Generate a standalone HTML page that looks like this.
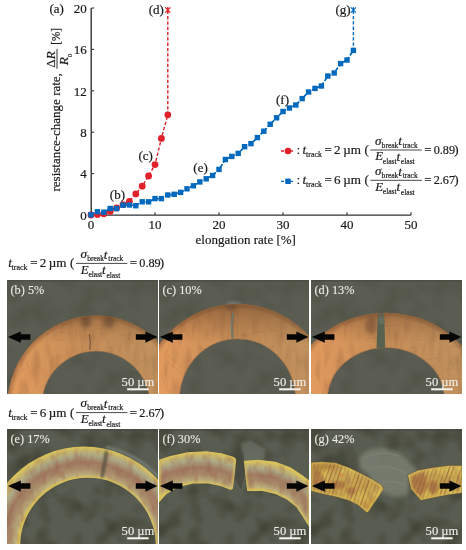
<!DOCTYPE html>
<html><head><meta charset="utf-8"><style>
html,body{margin:0;padding:0;background:#fff;}
.pt text{stroke:#1a1a1a;stroke-width:0.2px}
.pl{stroke:#f0f0ec;stroke-width:0.1px}
svg{display:block}

</style></head><body>
<svg width="466" height="550" viewBox="0 0 466 550" font-family="'Liberation Serif', serif" font-size="13" fill="#1a1a1a">
<defs>
<linearGradient id="cu1" x1="0" y1="0" x2="1" y2="0">
<stop offset="0" stop-color="#e39b5e"/><stop offset="0.45" stop-color="#c98f58"/><stop offset="1" stop-color="#bf915e"/>
</linearGradient>
<linearGradient id="cu1v" x1="0" y1="0" x2="0" y2="1">
<stop offset="0.2" stop-color="#5e3c24" stop-opacity="0.5"/><stop offset="0.36" stop-color="#6a4428" stop-opacity="0.3"/><stop offset="0.56" stop-color="#7a5030" stop-opacity="0"/><stop offset="1" stop-color="#f0a060" stop-opacity="0.1"/>
</linearGradient>
<filter id="tx1" color-interpolation-filters="sRGB" x="0" y="0" width="1" height="1">
<feTurbulence type="fractalNoise" baseFrequency="0.15 0.04" numOctaves="2" seed="4"/>
<feColorMatrix type="matrix" values="0 0 0 0 0.5  0 0 0 0 0.33  0 0 0 0 0.22  2.0 0 0 0 -0.9"/>
</filter>
<filter id="tx2" color-interpolation-filters="sRGB" x="0" y="0" width="1" height="1">
<feTurbulence type="fractalNoise" baseFrequency="0.15 0.08" numOctaves="2" seed="7"/>
<feColorMatrix type="matrix" values="0 0 0 0 0.60  0 0 0 0 0.38  0 0 0 0 0.30  2.6 0 0 0 -1.15"/>
</filter>
<filter id="mot" color-interpolation-filters="sRGB" x="0" y="0" width="1" height="1">
<feTurbulence type="fractalNoise" baseFrequency="0.045" numOctaves="2" seed="11"/>
<feColorMatrix type="matrix" values="0 0 0 0 0.26  0 0 0 0 0.27  0 0 0 0 0.22  2.6 0 0 0 -1.1"/>
</filter>
<filter id="bl1" color-interpolation-filters="sRGB" x="-0.2" y="-0.2" width="1.4" height="1.4"><feGaussianBlur stdDeviation="0.8"/></filter>
<filter id="bl2" color-interpolation-filters="sRGB" x="-0.5" y="-0.5" width="2" height="2"><feGaussianBlur stdDeviation="2"/></filter>
</defs>
<g class="pt"><path d="M91.2,8 V215.1 H411.2" fill="none" stroke="#333" stroke-width="1.4"/>
<path d="M91.5,215.0 h2.6" stroke="#333" stroke-width="1.1"/>
<text x="86.8" y="219.8" text-anchor="end">0</text>
<path d="M91.5,173.6 h2.6" stroke="#333" stroke-width="1.1"/>
<text x="86.8" y="178.4" text-anchor="end">4</text>
<path d="M91.5,132.2 h2.6" stroke="#333" stroke-width="1.1"/>
<text x="86.8" y="137.0" text-anchor="end">8</text>
<path d="M91.5,90.8 h2.6" stroke="#333" stroke-width="1.1"/>
<text x="86.8" y="95.6" text-anchor="end">12</text>
<path d="M91.5,49.4 h2.6" stroke="#333" stroke-width="1.1"/>
<text x="86.8" y="54.2" text-anchor="end">16</text>
<path d="M91.5,8.0 h2.6" stroke="#333" stroke-width="1.1"/>
<text x="86.8" y="12.8" text-anchor="end">20</text>
<path d="M91.0,215 v-2.8" stroke="#333" stroke-width="1.1"/>
<text x="91.0" y="229" text-anchor="middle">0</text>
<path d="M155.0,215 v-2.8" stroke="#333" stroke-width="1.1"/>
<text x="155.0" y="229" text-anchor="middle">10</text>
<path d="M219.0,215 v-2.8" stroke="#333" stroke-width="1.1"/>
<text x="219.0" y="229" text-anchor="middle">20</text>
<path d="M283.0,215 v-2.8" stroke="#333" stroke-width="1.1"/>
<text x="283.0" y="229" text-anchor="middle">30</text>
<path d="M347.0,215 v-2.8" stroke="#333" stroke-width="1.1"/>
<text x="347.0" y="229" text-anchor="middle">40</text>
<path d="M411.0,215 v-2.8" stroke="#333" stroke-width="1.1"/>
<text x="411.0" y="229" text-anchor="middle">50</text>
<polyline points="91.0,215.0 97.4,214.5 103.8,213.8 110.2,211.4 116.6,208.0 123.0,204.7 129.4,201.5 135.8,193.9 142.2,186.2 148.6,176.0 155.0,164.6 161.4,138.4 167.8,114.8 167.8,10" fill="none" stroke="#e0202a" stroke-width="1.4" stroke-dasharray="3.3,2"/>
<polyline points="91.0,214.8 97.4,211.7 103.8,212.2 110.2,208.5 116.6,208.5 123.0,205.2 129.4,205.0 135.8,205.7 142.2,201.8 148.6,201.8 155.0,198.6 161.4,198.6 167.8,195.0 174.2,194.3 180.6,192.4 187.0,188.8 193.4,185.8 199.8,181.9 206.2,178.8 212.6,175.5 219.0,169.4 225.4,159.5 231.8,156.4 238.2,153.4 244.6,146.7 251.0,143.6 257.4,137.6 263.8,131.2 270.2,124.3 276.6,117.8 283.0,111.5 289.4,108.0 295.8,105.0 302.2,98.6 308.6,92.0 315.0,88.4 321.4,86.0 327.8,76.0 334.2,73.0 340.6,63.6 347.0,60.0 353.4,50.4 353.4,10" fill="none" stroke="#0068bd" stroke-width="1.4" stroke-dasharray="3.3,2"/>
<circle cx="91.0" cy="215.0" r="3.4" fill="#e0202a"/>
<circle cx="97.4" cy="214.5" r="3.4" fill="#e0202a"/>
<circle cx="103.8" cy="213.8" r="3.4" fill="#e0202a"/>
<circle cx="110.2" cy="211.4" r="3.4" fill="#e0202a"/>
<circle cx="116.6" cy="208.0" r="3.4" fill="#e0202a"/>
<circle cx="123.0" cy="204.7" r="3.4" fill="#e0202a"/>
<circle cx="129.4" cy="201.5" r="3.4" fill="#e0202a"/>
<circle cx="135.8" cy="193.9" r="3.4" fill="#e0202a"/>
<circle cx="142.2" cy="186.2" r="3.4" fill="#e0202a"/>
<circle cx="148.6" cy="176.0" r="3.4" fill="#e0202a"/>
<circle cx="155.0" cy="164.6" r="3.4" fill="#e0202a"/>
<circle cx="161.4" cy="138.4" r="3.4" fill="#e0202a"/>
<circle cx="167.8" cy="114.8" r="3.4" fill="#e0202a"/>
<polyline points="91.0,214.8 97.4,211.7 103.8,212.2 110.2,208.5 116.6,208.5 123.0,205.2 129.4,205.0 135.8,205.7 142.2,201.8 148.6,201.8 155.0,198.6 161.4,198.6 167.8,195.0 174.2,194.3 180.6,192.4 187.0,188.8 193.4,185.8 199.8,181.9 206.2,178.8 212.6,175.5 219.0,169.4 225.4,159.5 231.8,156.4 238.2,153.4 244.6,146.7 251.0,143.6 257.4,137.6 263.8,131.2 270.2,124.3 276.6,117.8 283.0,111.5 289.4,108.0 295.8,105.0 302.2,98.6 308.6,92.0 315.0,88.4 321.4,86.0 327.8,76.0 334.2,73.0 340.6,63.6 347.0,60.0 353.4,50.4" fill="none" stroke="#0068bd" stroke-width="1.4" stroke-dasharray="3.3,2"/>
<rect x="88.3" y="212.1" width="5.4" height="5.4" fill="#0068bd"/>
<rect x="94.7" y="209.0" width="5.4" height="5.4" fill="#0068bd"/>
<rect x="101.1" y="209.5" width="5.4" height="5.4" fill="#0068bd"/>
<rect x="107.5" y="205.8" width="5.4" height="5.4" fill="#0068bd"/>
<rect x="113.9" y="205.8" width="5.4" height="5.4" fill="#0068bd"/>
<rect x="120.3" y="202.5" width="5.4" height="5.4" fill="#0068bd"/>
<rect x="126.7" y="202.3" width="5.4" height="5.4" fill="#0068bd"/>
<rect x="133.1" y="203.0" width="5.4" height="5.4" fill="#0068bd"/>
<rect x="139.5" y="199.1" width="5.4" height="5.4" fill="#0068bd"/>
<rect x="145.9" y="199.1" width="5.4" height="5.4" fill="#0068bd"/>
<rect x="152.3" y="195.9" width="5.4" height="5.4" fill="#0068bd"/>
<rect x="158.7" y="195.9" width="5.4" height="5.4" fill="#0068bd"/>
<rect x="165.1" y="192.3" width="5.4" height="5.4" fill="#0068bd"/>
<rect x="171.5" y="191.6" width="5.4" height="5.4" fill="#0068bd"/>
<rect x="177.9" y="189.7" width="5.4" height="5.4" fill="#0068bd"/>
<rect x="184.3" y="186.1" width="5.4" height="5.4" fill="#0068bd"/>
<rect x="190.7" y="183.1" width="5.4" height="5.4" fill="#0068bd"/>
<rect x="197.1" y="179.2" width="5.4" height="5.4" fill="#0068bd"/>
<rect x="203.5" y="176.1" width="5.4" height="5.4" fill="#0068bd"/>
<rect x="209.9" y="172.8" width="5.4" height="5.4" fill="#0068bd"/>
<rect x="216.3" y="166.7" width="5.4" height="5.4" fill="#0068bd"/>
<rect x="222.7" y="156.8" width="5.4" height="5.4" fill="#0068bd"/>
<rect x="229.1" y="153.7" width="5.4" height="5.4" fill="#0068bd"/>
<rect x="235.5" y="150.7" width="5.4" height="5.4" fill="#0068bd"/>
<rect x="241.9" y="144.0" width="5.4" height="5.4" fill="#0068bd"/>
<rect x="248.3" y="140.9" width="5.4" height="5.4" fill="#0068bd"/>
<rect x="254.7" y="134.9" width="5.4" height="5.4" fill="#0068bd"/>
<rect x="261.1" y="128.5" width="5.4" height="5.4" fill="#0068bd"/>
<rect x="267.5" y="121.6" width="5.4" height="5.4" fill="#0068bd"/>
<rect x="273.9" y="115.1" width="5.4" height="5.4" fill="#0068bd"/>
<rect x="280.3" y="108.8" width="5.4" height="5.4" fill="#0068bd"/>
<rect x="286.7" y="105.3" width="5.4" height="5.4" fill="#0068bd"/>
<rect x="293.1" y="102.3" width="5.4" height="5.4" fill="#0068bd"/>
<rect x="299.5" y="95.9" width="5.4" height="5.4" fill="#0068bd"/>
<rect x="305.9" y="89.3" width="5.4" height="5.4" fill="#0068bd"/>
<rect x="312.3" y="85.7" width="5.4" height="5.4" fill="#0068bd"/>
<rect x="318.7" y="83.3" width="5.4" height="5.4" fill="#0068bd"/>
<rect x="325.1" y="73.3" width="5.4" height="5.4" fill="#0068bd"/>
<rect x="331.5" y="70.3" width="5.4" height="5.4" fill="#0068bd"/>
<rect x="337.9" y="60.9" width="5.4" height="5.4" fill="#0068bd"/>
<rect x="344.3" y="57.3" width="5.4" height="5.4" fill="#0068bd"/>
<rect x="350.7" y="47.7" width="5.4" height="5.4" fill="#0068bd"/>
<path d="M165.20000000000002,7.4 L170.4,12.6 M165.20000000000002,12.6 L170.4,7.4 M167.8,7 V13" stroke="#e0202a" stroke-width="1.2" fill="none"/>
<path d="M350.8,7.4 L356.00000000000006,12.6 M350.8,12.6 L356.00000000000006,7.4 M353.40000000000003,7 V13" stroke="#0068bd" stroke-width="1.2" fill="none"/>
<text x="49.5" y="12.5">(a)</text>
<text x="148.7" y="14">(d)</text>
<text x="335.5" y="14">(g)</text>
<text x="138.5" y="160">(c)</text>
<text x="109.8" y="198.5">(b)</text>
<text x="193.3" y="172">(e)</text>
<text x="276" y="104">(f)</text>
<text x="195.6" y="243.5">elongation rate [%]</text>
<g transform="translate(59.6,191.5) rotate(-90)"><text x="0" y="0">resistance-change rate,</text><text x="123.8" y="-4.6">Δ<tspan font-style="italic">R</tspan></text><path d="M122.7,-2.6 H142.7" stroke="#333" stroke-width="1"/><text x="126.3" y="8.2" font-style="italic" font-size="13.5">R</text><text x="134.6" y="12.1" font-size="6.6">0</text><text x="146.8" y="0" textLength="16.6" lengthAdjust="spacingAndGlyphs">[%]</text></g>
<path d="M281,151 H294.5" stroke="#e0202a" stroke-width="1.3" stroke-dasharray="3,1.5"/><circle cx="288" cy="151" r="3.3" fill="#e0202a"/>
<text x="296.6" y="154">:</text>
<g transform="translate(302.6,154)"><text x="0" y="0" font-size="13.5" font-style="italic">t</text><text x="3.4" y="3.0" font-size="8.5" textLength="16" lengthAdjust="spacingAndGlyphs">track</text><text x="22.0" y="0" font-size="13">=</text><text x="31.5" y="0" font-size="13">2</text><text x="40.6" y="0" font-size="13" textLength="17.8" lengthAdjust="spacingAndGlyphs">µm</text><text x="61.8" y="0" font-size="13">(</text><text x="72.4" y="-9.4" font-size="13" font-style="italic">σ</text><text x="79.0" y="-6.4" font-size="8.5" textLength="16.8" lengthAdjust="spacingAndGlyphs">break</text><text x="95.6" y="-8.8" font-size="13.5" font-style="italic">t</text><text x="100.1" y="-6.4" font-size="8.5" textLength="15" lengthAdjust="spacingAndGlyphs">track</text><text x="72.6" y="6.2" font-size="13" font-style="italic">E</text><text x="80.2" y="9.8" font-size="8.5" textLength="13.8" lengthAdjust="spacingAndGlyphs">elast</text><text x="93.8" y="6.8" font-size="13.5" font-style="italic">t</text><text x="98.2" y="10.4" font-size="8.5" textLength="13.9" lengthAdjust="spacingAndGlyphs">elast</text><text x="121.6" y="0" font-size="13">=</text><text x="131.1" y="0" font-size="13" textLength="21.4" lengthAdjust="spacingAndGlyphs">0.89</text><text x="151.6" y="0" font-size="13">)</text><path d="M67.8,-4.0 H119.2" stroke="#1a1a1a" stroke-width="0.8"/></g>
<path d="M281,181.3 H294.5" stroke="#0068bd" stroke-width="1.3" stroke-dasharray="3,1.5"/><rect x="285.3" y="178.6" width="5.4" height="5.4" fill="#0068bd"/>
<text x="296.6" y="184.3">:</text>
<g transform="translate(302.6,184.3)"><text x="0" y="0" font-size="13.5" font-style="italic">t</text><text x="3.4" y="3.0" font-size="8.5" textLength="16" lengthAdjust="spacingAndGlyphs">track</text><text x="22.0" y="0" font-size="13">=</text><text x="31.5" y="0" font-size="13">6</text><text x="40.6" y="0" font-size="13" textLength="17.8" lengthAdjust="spacingAndGlyphs">µm</text><text x="61.8" y="0" font-size="13">(</text><text x="72.4" y="-9.4" font-size="13" font-style="italic">σ</text><text x="79.0" y="-6.4" font-size="8.5" textLength="16.8" lengthAdjust="spacingAndGlyphs">break</text><text x="95.6" y="-8.8" font-size="13.5" font-style="italic">t</text><text x="100.1" y="-6.4" font-size="8.5" textLength="15" lengthAdjust="spacingAndGlyphs">track</text><text x="72.6" y="6.2" font-size="13" font-style="italic">E</text><text x="80.2" y="9.8" font-size="8.5" textLength="13.8" lengthAdjust="spacingAndGlyphs">elast</text><text x="93.8" y="6.8" font-size="13.5" font-style="italic">t</text><text x="98.2" y="10.4" font-size="8.5" textLength="13.9" lengthAdjust="spacingAndGlyphs">elast</text><text x="121.6" y="0" font-size="13">=</text><text x="131.1" y="0" font-size="13" textLength="21.4" lengthAdjust="spacingAndGlyphs">2.67</text><text x="151.6" y="0" font-size="13">)</text><path d="M67.8,-4.0 H119.2" stroke="#1a1a1a" stroke-width="0.8"/></g>
<g transform="translate(8.2,267.4)"><text x="0" y="0" font-size="13.5" font-style="italic">t</text><text x="3.4" y="3.0" font-size="8.5" textLength="16" lengthAdjust="spacingAndGlyphs">track</text><text x="22.0" y="0" font-size="13">=</text><text x="31.5" y="0" font-size="13">2</text><text x="40.6" y="0" font-size="13" textLength="17.8" lengthAdjust="spacingAndGlyphs">µm</text><text x="61.8" y="0" font-size="13">(</text><text x="72.4" y="-9.4" font-size="13" font-style="italic">σ</text><text x="79.0" y="-6.4" font-size="8.5" textLength="16.8" lengthAdjust="spacingAndGlyphs">break</text><text x="95.6" y="-8.8" font-size="13.5" font-style="italic">t</text><text x="100.1" y="-6.4" font-size="8.5" textLength="15" lengthAdjust="spacingAndGlyphs">track</text><text x="72.6" y="6.2" font-size="13" font-style="italic">E</text><text x="80.2" y="9.8" font-size="8.5" textLength="13.8" lengthAdjust="spacingAndGlyphs">elast</text><text x="93.8" y="6.8" font-size="13.5" font-style="italic">t</text><text x="98.2" y="10.4" font-size="8.5" textLength="13.9" lengthAdjust="spacingAndGlyphs">elast</text><text x="121.6" y="0" font-size="13">=</text><text x="131.1" y="0" font-size="13" textLength="21.4" lengthAdjust="spacingAndGlyphs">0.89</text><text x="151.6" y="0" font-size="13">)</text><path d="M67.8,-4.0 H119.2" stroke="#1a1a1a" stroke-width="0.8"/></g>
<g transform="translate(8.2,416.6)"><text x="0" y="0" font-size="13.5" font-style="italic">t</text><text x="3.4" y="3.0" font-size="8.5" textLength="16" lengthAdjust="spacingAndGlyphs">track</text><text x="22.0" y="0" font-size="13">=</text><text x="31.5" y="0" font-size="13">6</text><text x="40.6" y="0" font-size="13" textLength="17.8" lengthAdjust="spacingAndGlyphs">µm</text><text x="61.8" y="0" font-size="13">(</text><text x="72.4" y="-9.4" font-size="13" font-style="italic">σ</text><text x="79.0" y="-6.4" font-size="8.5" textLength="16.8" lengthAdjust="spacingAndGlyphs">break</text><text x="95.6" y="-8.8" font-size="13.5" font-style="italic">t</text><text x="100.1" y="-6.4" font-size="8.5" textLength="15" lengthAdjust="spacingAndGlyphs">track</text><text x="72.6" y="6.2" font-size="13" font-style="italic">E</text><text x="80.2" y="9.8" font-size="8.5" textLength="13.8" lengthAdjust="spacingAndGlyphs">elast</text><text x="93.8" y="6.8" font-size="13.5" font-style="italic">t</text><text x="98.2" y="10.4" font-size="8.5" textLength="13.9" lengthAdjust="spacingAndGlyphs">elast</text><text x="121.6" y="0" font-size="13">=</text><text x="131.1" y="0" font-size="13" textLength="21.4" lengthAdjust="spacingAndGlyphs">2.67</text><text x="151.6" y="0" font-size="13">)</text><path d="M67.8,-4.0 H119.2" stroke="#1a1a1a" stroke-width="0.8"/></g></g>
<svg x="7" y="280" width="151" height="114" viewBox="0 0 151 114" overflow="hidden"><rect width="151" height="114" fill="#5b5d52"/><rect width="151" height="114" filter="url(#mot)" opacity="0.35"/><rect width="151" height="1.6" fill="#45483d" opacity="0.6"/><clipPath id="kb"><path fill-rule="evenodd" d="M0.5,125.3 A88.5,89.7 0 1 1 177.5,125.3 A88.5,89.7 0 1 1 0.5,125.3 Z M35,125.3 A54,54 0 1 0 143,125.3 A54,54 0 1 0 35,125.3 Z "/></clipPath><g clip-path="url(#kb)"><rect width="151" height="114" fill="url(#cu1)"/><rect width="151" height="114" fill="url(#cu1v)"/><rect width="151" height="114" filter="url(#tx1)" opacity="0.3"/><g stroke="#7a5234" fill="none"><path d="M5.3,41.8 l14.4,0.1" stroke-width="0.45" opacity="0.23"/><path d="M80.8,63.3 l12.9,11.9" stroke-width="0.40" opacity="0.15"/><path d="M61.0,78.4 l5.4,-7.6" stroke-width="0.51" opacity="0.20"/><path d="M43.6,81.4 l2.9,-6.1" stroke-width="0.54" opacity="0.11"/><path d="M134.6,103.0 l12.2,1.9" stroke-width="0.41" opacity="0.15"/><path d="M17.9,63.9 l3.6,-5.9" stroke-width="0.54" opacity="0.19"/><path d="M56.1,108.3 l11.4,-0.5" stroke-width="0.64" opacity="0.16"/><path d="M50.7,51.7 l13.2,2.3" stroke-width="0.53" opacity="0.22"/><path d="M66.1,57.6 l12.5,-8.0" stroke-width="0.37" opacity="0.21"/><path d="M49.7,60.5 l9.0,-1.3" stroke-width="0.67" opacity="0.22"/><path d="M93.3,58.7 l2.7,-6.6" stroke-width="0.31" opacity="0.26"/><path d="M53.7,44.8 l13.1,-0.0" stroke-width="0.56" opacity="0.26"/><path d="M98.8,111.6 l8.2,11.4" stroke-width="0.47" opacity="0.25"/><path d="M93.5,99.4 l4.4,6.3" stroke-width="0.37" opacity="0.26"/><path d="M45.8,77.5 l9.5,-1.4" stroke-width="0.50" opacity="0.26"/><path d="M95.9,60.5 l10.2,-18.9" stroke-width="0.49" opacity="0.14"/><path d="M100.6,76.8 l13.4,-16.4" stroke-width="0.39" opacity="0.22"/><path d="M1.2,72.4 l9.8,-7.0" stroke-width="0.39" opacity="0.22"/><path d="M48.5,32.7 l11.9,0.7" stroke-width="0.56" opacity="0.12"/><path d="M114.9,63.5 l16.7,-12.0" stroke-width="0.32" opacity="0.21"/><path d="M136.9,104.8 l5.7,-12.1" stroke-width="0.31" opacity="0.27"/><path d="M130.2,30.7 l9.9,-6.9" stroke-width="0.69" opacity="0.22"/><path d="M88.8,36.5 l9.4,-5.7" stroke-width="0.40" opacity="0.17"/><path d="M87.8,79.2 l7.9,0.2" stroke-width="0.48" opacity="0.23"/><path d="M30.0,85.6 l11.0,7.8" stroke-width="0.49" opacity="0.14"/><path d="M81.4,50.0 l14.3,-1.8" stroke-width="0.58" opacity="0.11"/><path d="M93.0,27.3 l4.0,-5.3" stroke-width="0.58" opacity="0.20"/><path d="M6.7,52.6 l10.8,-0.9" stroke-width="0.43" opacity="0.26"/><path d="M9.1,97.2 l7.9,-9.2" stroke-width="0.58" opacity="0.25"/><path d="M18.4,35.0 l20.6,3.4" stroke-width="0.54" opacity="0.12"/><path d="M123.4,54.1 l11.2,-6.4" stroke-width="0.41" opacity="0.16"/><path d="M11.0,63.4 l9.1,-5.1" stroke-width="0.40" opacity="0.24"/><path d="M35.0,104.7 l11.3,12.0" stroke-width="0.62" opacity="0.13"/><path d="M102.5,50.2 l4.4,-9.9" stroke-width="0.59" opacity="0.10"/><path d="M150.6,46.7 l12.5,14.5" stroke-width="0.38" opacity="0.24"/><path d="M112.6,55.8 l18.8,-2.9" stroke-width="0.68" opacity="0.17"/><path d="M41.5,113.9 l8.3,19.4" stroke-width="0.62" opacity="0.21"/><path d="M74.7,110.5 l8.9,19.1" stroke-width="0.47" opacity="0.16"/><path d="M81.3,46.0 l10.2,-12.7" stroke-width="0.69" opacity="0.20"/><path d="M123.9,63.8 l9.4,0.2" stroke-width="0.43" opacity="0.20"/><path d="M145.9,59.2 l6.6,11.4" stroke-width="0.40" opacity="0.21"/><path d="M125.3,87.2 l13.8,-8.6" stroke-width="0.55" opacity="0.27"/><path d="M32.1,110.9 l10.9,-1.7" stroke-width="0.42" opacity="0.22"/><path d="M136.0,101.4 l9.1,-1.1" stroke-width="0.62" opacity="0.12"/><path d="M37.4,37.1 l21.8,-1.4" stroke-width="0.56" opacity="0.14"/><path d="M50.4,52.5 l13.1,-16.1" stroke-width="0.39" opacity="0.20"/><path d="M77.5,100.3 l12.0,2.4" stroke-width="0.31" opacity="0.20"/><path d="M130.7,25.7 l4.0,7.2" stroke-width="0.54" opacity="0.17"/><path d="M63.6,45.7 l20.4,-2.8" stroke-width="0.39" opacity="0.19"/><path d="M38.6,108.0 l7.7,13.4" stroke-width="0.38" opacity="0.16"/><path d="M127.0,40.6 l4.6,4.0" stroke-width="0.59" opacity="0.12"/><path d="M19.1,81.4 l4.7,11.4" stroke-width="0.54" opacity="0.27"/><path d="M118.7,64.4 l3.7,-5.8" stroke-width="0.31" opacity="0.20"/><path d="M135.5,112.4 l8.4,14.1" stroke-width="0.56" opacity="0.11"/><path d="M144.4,96.2 l4.3,-5.5" stroke-width="0.69" opacity="0.26"/><path d="M97.9,81.5 l12.5,9.4" stroke-width="0.43" opacity="0.12"/><path d="M64.4,81.1 l21.1,1.0" stroke-width="0.61" opacity="0.26"/><path d="M143.6,96.6 l7.0,14.5" stroke-width="0.44" opacity="0.14"/><path d="M42.1,80.6 l4.7,8.6" stroke-width="0.54" opacity="0.22"/><path d="M85.0,99.8 l12.8,-8.9" stroke-width="0.57" opacity="0.21"/></g><g filter="url(#bl2)" opacity="0.6"><ellipse cx="79" cy="41" rx="5" ry="7" fill="#5e4030"/><ellipse cx="102" cy="41" rx="5.5" ry="7" fill="#5e4030"/></g><path d="M82.3,54 L83.2,62 L82.8,70" stroke="#4a3a30" stroke-width="1.1" fill="none" opacity="0.65"/><path d="M0.5,125.3 A88.5,89.7 0 1 1 177.5,125.3 A88.5,89.7 0 1 1 0.5,125.3 Z " fill="none" stroke="#6a4428" stroke-width="7" opacity="0.32" filter="url(#bl1)"/><path fill-rule="evenodd" d="M0.5,125.3 A88.5,89.7 0 1 1 177.5,125.3 A88.5,89.7 0 1 1 0.5,125.3 Z M35,125.3 A54,54 0 1 0 143,125.3 A54,54 0 1 0 35,125.3 Z " fill="none" stroke="#8a6040" stroke-width="1.2" opacity="0.5"/></g><path d="M0.9,57 L13.8,51.4 V54.3 H23.4 V59.8 H13.8 V62.7 Z" fill="#050505"/><path d="M150.4,57 L138.4,51.4 V54.3 H128.8 V59.8 H138.4 V62.7 Z" fill="#050505"/><text class="pl" x="3.5" y="13.5" fill="#ecebe6" font-size="12.3">(b) 5%</text><text class="pl" x="114.6" y="106.4" fill="#f2f2ee" font-size="12.6">50 µm</text><rect x="120.2" y="108.3" width="21.5" height="2" fill="#f4f4f0"/></svg><svg x="159" y="280" width="150" height="114" viewBox="0 0 150 114" overflow="hidden"><rect width="150" height="114" fill="#5b5d52"/><rect width="150" height="114" filter="url(#mot)" opacity="0.35"/><rect width="150" height="1.6" fill="#45483d" opacity="0.6"/><ellipse cx="75" cy="23.5" rx="8" ry="2.2" fill="#7d8478" opacity="0.7" filter="url(#bl1)"/><clipPath id="kc"><path fill-rule="evenodd" d="M-17.5,120 A96,96 0 1 1 174.5,120 A96,96 0 1 1 -17.5,120 Z M20.5,120 A58,61 0 1 0 136.5,120 A58,61 0 1 0 20.5,120 Z "/></clipPath><g clip-path="url(#kc)"><rect width="150" height="114" fill="url(#cu1)"/><rect width="150" height="114" fill="url(#cu1v)"/><rect width="150" height="114" filter="url(#tx1)" opacity="0.3"/><g stroke="#7a5234" fill="none"><path d="M2.0,46.0 l11.5,2.3" stroke-width="0.45" opacity="0.20"/><path d="M74.2,46.0 l17.6,2.0" stroke-width="0.30" opacity="0.21"/><path d="M9.1,75.3 l9.1,8.2" stroke-width="0.68" opacity="0.24"/><path d="M0.8,45.3 l13.4,2.5" stroke-width="0.69" opacity="0.18"/><path d="M32.9,22.4 l6.4,-0.6" stroke-width="0.45" opacity="0.12"/><path d="M43.7,68.6 l16.4,3.0" stroke-width="0.45" opacity="0.21"/><path d="M81.0,95.6 l9.8,-8.0" stroke-width="0.35" opacity="0.20"/><path d="M100.9,43.4 l21.7,0.0" stroke-width="0.35" opacity="0.19"/><path d="M54.0,20.4 l18.0,2.0" stroke-width="0.54" opacity="0.12"/><path d="M68.9,64.2 l6.9,14.0" stroke-width="0.60" opacity="0.11"/><path d="M91.9,37.5 l7.5,-17.4" stroke-width="0.31" opacity="0.21"/><path d="M141.1,32.3 l3.9,7.3" stroke-width="0.48" opacity="0.11"/><path d="M114.7,33.2 l9.4,11.1" stroke-width="0.36" opacity="0.24"/><path d="M68.7,95.5 l9.2,-6.0" stroke-width="0.52" opacity="0.23"/><path d="M2.1,94.5 l8.1,18.1" stroke-width="0.63" opacity="0.23"/><path d="M85.3,100.1 l8.6,17.9" stroke-width="0.53" opacity="0.27"/><path d="M67.9,34.1 l11.5,1.5" stroke-width="0.60" opacity="0.14"/><path d="M38.4,66.2 l17.4,9.9" stroke-width="0.64" opacity="0.24"/><path d="M34.8,79.6 l7.2,-9.3" stroke-width="0.53" opacity="0.24"/><path d="M83.9,85.9 l13.2,-0.8" stroke-width="0.45" opacity="0.12"/><path d="M121.5,93.2 l8.0,17.9" stroke-width="0.34" opacity="0.21"/><path d="M145.5,28.8 l16.8,12.1" stroke-width="0.59" opacity="0.22"/><path d="M30.6,41.3 l14.1,12.1" stroke-width="0.45" opacity="0.28"/><path d="M128.8,106.6 l11.9,17.5" stroke-width="0.55" opacity="0.26"/><path d="M99.4,62.0 l9.2,7.3" stroke-width="0.38" opacity="0.23"/><path d="M46.3,90.7 l14.4,10.1" stroke-width="0.46" opacity="0.23"/><path d="M85.7,80.6 l13.6,0.3" stroke-width="0.47" opacity="0.12"/><path d="M86.0,59.6 l8.0,16.1" stroke-width="0.46" opacity="0.18"/><path d="M45.5,39.2 l8.6,-7.7" stroke-width="0.63" opacity="0.26"/><path d="M17.4,54.7 l18.4,-11.6" stroke-width="0.33" opacity="0.18"/><path d="M34.4,97.5 l10.8,6.2" stroke-width="0.40" opacity="0.11"/><path d="M98.5,22.5 l13.0,-11.9" stroke-width="0.31" opacity="0.27"/><path d="M96.0,73.8 l7.6,1.1" stroke-width="0.36" opacity="0.24"/><path d="M82.1,55.2 l21.4,-4.0" stroke-width="0.66" opacity="0.19"/><path d="M72.9,68.1 l10.0,10.2" stroke-width="0.48" opacity="0.23"/><path d="M102.8,69.9 l5.3,-5.5" stroke-width="0.33" opacity="0.24"/><path d="M120.1,26.3 l12.4,1.1" stroke-width="0.42" opacity="0.23"/><path d="M19.8,87.3 l13.2,-9.8" stroke-width="0.61" opacity="0.18"/><path d="M120.6,47.5 l8.7,-13.8" stroke-width="0.69" opacity="0.16"/><path d="M20.3,30.3 l19.6,0.3" stroke-width="0.63" opacity="0.24"/><path d="M45.7,113.9 l7.4,-7.8" stroke-width="0.63" opacity="0.18"/><path d="M38.0,21.9 l6.9,15.4" stroke-width="0.48" opacity="0.18"/><path d="M10.5,83.6 l13.0,9.5" stroke-width="0.69" opacity="0.17"/><path d="M5.3,78.0 l6.2,-14.9" stroke-width="0.42" opacity="0.17"/><path d="M109.3,49.3 l10.6,2.1" stroke-width="0.41" opacity="0.25"/><path d="M2.3,51.9 l6.8,-17.4" stroke-width="0.67" opacity="0.28"/><path d="M13.6,28.2 l13.2,0.8" stroke-width="0.48" opacity="0.27"/><path d="M20.4,36.9 l19.3,-0.6" stroke-width="0.38" opacity="0.18"/><path d="M117.5,94.3 l12.6,-9.8" stroke-width="0.44" opacity="0.14"/><path d="M93.8,27.9 l5.7,8.4" stroke-width="0.33" opacity="0.23"/><path d="M139.2,55.0 l8.6,-0.2" stroke-width="0.59" opacity="0.24"/><path d="M123.7,112.5 l5.7,7.2" stroke-width="0.49" opacity="0.28"/><path d="M42.8,76.9 l9.8,-11.9" stroke-width="0.48" opacity="0.19"/><path d="M27.8,88.0 l12.9,1.7" stroke-width="0.31" opacity="0.27"/><path d="M96.2,49.8 l4.4,9.5" stroke-width="0.58" opacity="0.13"/><path d="M63.2,72.0 l6.7,-15.8" stroke-width="0.51" opacity="0.26"/><path d="M25.0,46.1 l6.5,14.7" stroke-width="0.34" opacity="0.26"/><path d="M124.4,53.6 l16.4,-2.1" stroke-width="0.65" opacity="0.13"/><path d="M139.2,79.8 l8.8,6.8" stroke-width="0.35" opacity="0.25"/><path d="M76.0,89.5 l5.4,8.0" stroke-width="0.59" opacity="0.23"/></g><g filter="url(#bl2)" opacity="0.6"><ellipse cx="72" cy="27" rx="5" ry="4" fill="#5a4535"/></g><path d="M74,33 L72.5,46 L73.6,58" stroke="#4a3a30" stroke-width="3.2" fill="none" opacity="0.45" filter="url(#bl1)"/><path d="M74,33 L72.5,46 L73.6,58" stroke="#6a8074" stroke-width="1.7" fill="none" opacity="0.9"/><path d="M-17.5,120 A96,96 0 1 1 174.5,120 A96,96 0 1 1 -17.5,120 Z " fill="none" stroke="#6a4428" stroke-width="7" opacity="0.32" filter="url(#bl1)"/><path fill-rule="evenodd" d="M-17.5,120 A96,96 0 1 1 174.5,120 A96,96 0 1 1 -17.5,120 Z M20.5,120 A58,61 0 1 0 136.5,120 A58,61 0 1 0 20.5,120 Z " fill="none" stroke="#8a6040" stroke-width="1.2" opacity="0.5"/></g><path d="M0.9,57 L13.8,51.4 V54.3 H23.4 V59.8 H13.8 V62.7 Z" fill="#050505"/><path d="M149.4,57 L137.4,51.4 V54.3 H127.8 V59.8 H137.4 V62.7 Z" fill="#050505"/><text class="pl" x="3.5" y="13.5" fill="#ecebe6" font-size="12.3">(c) 10%</text><text class="pl" x="114.6" y="106.4" fill="#f2f2ee" font-size="12.6">50 µm</text><rect x="120.2" y="108.3" width="21.5" height="2" fill="#f4f4f0"/></svg><svg x="311" y="280" width="151" height="114" viewBox="0 0 151 114" overflow="hidden"><rect width="151" height="114" fill="#5b5d52"/><rect width="151" height="114" filter="url(#mot)" opacity="0.35"/><rect width="151" height="1.6" fill="#45483d" opacity="0.6"/><clipPath id="kd"><path fill-rule="evenodd" d="M-21,119 A96,86.2 0 1 1 171,119 A96,86.2 0 1 1 -21,119 Z M16.700000000000003,119 A58.3,51.2 0 1 0 133.3,119 A58.3,51.2 0 1 0 16.700000000000003,119 Z "/></clipPath><g clip-path="url(#kd)"><rect width="151" height="114" fill="url(#cu1)"/><rect width="151" height="114" fill="url(#cu1v)"/><rect width="151" height="114" filter="url(#tx1)" opacity="0.3"/><g stroke="#7a5234" fill="none"><path d="M129.5,59.0 l9.1,0.4" stroke-width="0.36" opacity="0.24"/><path d="M150.8,105.2 l16.3,0.4" stroke-width="0.51" opacity="0.17"/><path d="M93.7,21.8 l18.6,-1.4" stroke-width="0.48" opacity="0.13"/><path d="M103.4,60.6 l7.4,-0.9" stroke-width="0.62" opacity="0.16"/><path d="M142.9,110.3 l6.4,9.2" stroke-width="0.61" opacity="0.19"/><path d="M123.0,96.8 l16.0,-9.1" stroke-width="0.63" opacity="0.14"/><path d="M2.9,20.5 l6.7,-0.5" stroke-width="0.35" opacity="0.21"/><path d="M124.4,105.9 l8.2,0.3" stroke-width="0.38" opacity="0.17"/><path d="M140.0,75.7 l17.0,12.4" stroke-width="0.51" opacity="0.17"/><path d="M106.6,91.3 l7.9,5.1" stroke-width="0.56" opacity="0.20"/><path d="M11.4,41.9 l7.1,-1.0" stroke-width="0.37" opacity="0.21"/><path d="M63.4,41.9 l3.0,-6.3" stroke-width="0.45" opacity="0.14"/><path d="M141.9,86.3 l10.5,-17.2" stroke-width="0.66" opacity="0.20"/><path d="M25.0,32.1 l6.5,-7.0" stroke-width="0.39" opacity="0.11"/><path d="M126.5,97.6 l20.2,3.6" stroke-width="0.40" opacity="0.13"/><path d="M120.7,39.0 l3.1,-7.8" stroke-width="0.61" opacity="0.17"/><path d="M24.6,95.7 l15.9,2.8" stroke-width="0.32" opacity="0.24"/><path d="M85.0,67.7 l7.1,10.6" stroke-width="0.56" opacity="0.16"/><path d="M38.4,22.5 l7.9,-0.3" stroke-width="0.31" opacity="0.14"/><path d="M111.3,113.8 l11.5,9.2" stroke-width="0.32" opacity="0.25"/><path d="M108.5,80.4 l20.6,-2.6" stroke-width="0.69" opacity="0.18"/><path d="M138.4,83.5 l7.2,5.8" stroke-width="0.56" opacity="0.12"/><path d="M2.0,94.2 l13.1,11.4" stroke-width="0.37" opacity="0.21"/><path d="M30.5,36.0 l12.2,-16.5" stroke-width="0.38" opacity="0.26"/><path d="M100.7,58.7 l12.6,-12.2" stroke-width="0.47" opacity="0.20"/><path d="M83.7,88.1 l17.4,-1.6" stroke-width="0.36" opacity="0.17"/><path d="M147.4,39.0 l18.3,-10.6" stroke-width="0.49" opacity="0.13"/><path d="M14.9,59.1 l6.5,11.3" stroke-width="0.57" opacity="0.18"/><path d="M58.3,91.5 l9.5,12.3" stroke-width="0.42" opacity="0.18"/><path d="M57.7,76.1 l7.7,-1.0" stroke-width="0.46" opacity="0.23"/><path d="M55.7,60.0 l7.2,-10.6" stroke-width="0.45" opacity="0.25"/><path d="M113.6,90.1 l15.0,-2.6" stroke-width="0.36" opacity="0.12"/><path d="M111.7,113.4 l3.9,-6.5" stroke-width="0.45" opacity="0.18"/><path d="M0.2,31.1 l5.0,5.9" stroke-width="0.34" opacity="0.25"/><path d="M54.6,59.3 l16.0,-2.3" stroke-width="0.54" opacity="0.21"/><path d="M102.2,59.8 l9.7,-8.4" stroke-width="0.47" opacity="0.19"/><path d="M86.1,106.5 l13.5,-15.5" stroke-width="0.32" opacity="0.19"/><path d="M55.9,105.5 l17.0,-1.5" stroke-width="0.41" opacity="0.27"/><path d="M52.6,41.5 l7.1,11.5" stroke-width="0.33" opacity="0.17"/><path d="M57.6,65.2 l6.2,7.1" stroke-width="0.43" opacity="0.17"/><path d="M25.2,23.2 l10.3,8.8" stroke-width="0.41" opacity="0.24"/><path d="M51.8,101.4 l20.5,3.4" stroke-width="0.68" opacity="0.25"/><path d="M66.6,47.1 l19.9,-1.9" stroke-width="0.67" opacity="0.22"/><path d="M17.5,22.9 l10.0,12.5" stroke-width="0.32" opacity="0.19"/><path d="M83.1,65.4 l18.4,11.4" stroke-width="0.41" opacity="0.11"/><path d="M5.7,99.2 l8.8,-8.5" stroke-width="0.45" opacity="0.18"/><path d="M57.1,109.4 l13.7,-9.8" stroke-width="0.57" opacity="0.27"/><path d="M89.6,73.1 l9.1,0.4" stroke-width="0.47" opacity="0.27"/><path d="M126.1,105.0 l4.4,6.5" stroke-width="0.60" opacity="0.16"/><path d="M38.8,113.8 l10.3,-14.7" stroke-width="0.32" opacity="0.23"/><path d="M65.1,48.4 l20.9,2.6" stroke-width="0.57" opacity="0.15"/><path d="M92.6,74.5 l7.4,-6.6" stroke-width="0.35" opacity="0.16"/><path d="M85.2,98.5 l9.9,17.7" stroke-width="0.36" opacity="0.26"/><path d="M146.8,98.8 l9.3,0.9" stroke-width="0.60" opacity="0.26"/><path d="M65.7,32.7 l12.2,13.3" stroke-width="0.62" opacity="0.18"/><path d="M107.9,26.5 l10.3,-18.5" stroke-width="0.64" opacity="0.19"/><path d="M137.2,66.8 l21.1,-1.4" stroke-width="0.69" opacity="0.19"/><path d="M126.9,64.5 l10.2,-8.4" stroke-width="0.58" opacity="0.23"/><path d="M37.2,36.2 l7.5,4.8" stroke-width="0.49" opacity="0.21"/><path d="M51.4,77.3 l9.2,0.2" stroke-width="0.43" opacity="0.28"/></g><g filter="url(#bl2)" opacity="0.5"><ellipse cx="60" cy="45" rx="5" ry="10" fill="#6a4a35"/></g><path d="M66.7,30 L73.1,30 L74.2,68 L65.6,68 Z " fill="#58604f"/><path d="M67.1,30 L72.7,30 L73.1,44 L67.5,44 Z " fill="#667060" opacity="0.9"/><path d="M-21,119 A96,86.2 0 1 1 171,119 A96,86.2 0 1 1 -21,119 Z " fill="none" stroke="#6a4428" stroke-width="7" opacity="0.32" filter="url(#bl1)"/><path fill-rule="evenodd" d="M-21,119 A96,86.2 0 1 1 171,119 A96,86.2 0 1 1 -21,119 Z M16.700000000000003,119 A58.3,51.2 0 1 0 133.3,119 A58.3,51.2 0 1 0 16.700000000000003,119 Z " fill="none" stroke="#8a6040" stroke-width="1.2" opacity="0.5"/></g><path d="M0.9,57 L13.8,51.4 V54.3 H23.4 V59.8 H13.8 V62.7 Z" fill="#050505"/><path d="M150.4,57 L138.4,51.4 V54.3 H128.8 V59.8 H138.4 V62.7 Z" fill="#050505"/><text class="pl" x="3.5" y="13.5" fill="#ecebe6" font-size="12.3">(d) 13%</text><text class="pl" x="114.6" y="106.4" fill="#f2f2ee" font-size="12.6">50 µm</text><rect x="120.2" y="108.3" width="21.5" height="2" fill="#f4f4f0"/></svg><svg x="7" y="429" width="151" height="115" viewBox="0 0 151 115" overflow="hidden"><rect width="151" height="115" fill="#595c50"/><rect width="151" height="115" filter="url(#mot)"/><rect width="151" height="1.6" fill="#45483d" opacity="0.6"/><path d="M99,18.2 A101,101 0 0 1 152,48.6" stroke="#737a70" stroke-width="3.4" fill="none" opacity="0.95" filter="url(#bl1)"/><clipPath id="ke"><path fill-rule="evenodd" d="M-22,116.6 A99,99 0 1 1 176,116.6 A99,99 0 1 1 -22,116.6 Z M13.200000000000003,116.6 A67.8,67.8 0 1 0 148.8,116.6 A67.8,67.8 0 1 0 13.200000000000003,116.6 Z "/></clipPath><g clip-path="url(#ke)"><defs><radialGradient id="ge" gradientUnits="userSpaceOnUse" cx="79" cy="116.6" r="99"><stop offset="0" stop-color="#d6bf62"/><stop offset="0.685" stop-color="#d0bb60"/><stop offset="0.710" stop-color="#bdb07e"/><stop offset="0.779" stop-color="#a88b6a"/><stop offset="0.842" stop-color="#a07a60"/><stop offset="0.912" stop-color="#aca886"/><stop offset="0.962" stop-color="#c5b670"/><stop offset="1.000" stop-color="#d8c260"/></radialGradient></defs><path d="M-22,116.6 A99,99 0 1 1 176,116.6 A99,99 0 1 1 -22,116.6 Z M13.200000000000003,116.6 A67.8,67.8 0 1 0 148.8,116.6 A67.8,67.8 0 1 0 13.200000000000003,116.6 Z " fill="url(#ge)"/><rect width="151" height="115" filter="url(#tx2)" opacity="0.45"/><path d="M100,19 L97.5,35 L94.5,50" stroke="#5a5444" stroke-width="4" fill="none" opacity="0.8" filter="url(#bl1)"/><path fill-rule="evenodd" d="M-22,116.6 A99,99 0 1 1 176,116.6 A99,99 0 1 1 -22,116.6 Z M13.200000000000003,116.6 A67.8,67.8 0 1 0 148.8,116.6 A67.8,67.8 0 1 0 13.200000000000003,116.6 Z " fill="none" stroke="#dcc45a" stroke-width="3.6" opacity="0.75" filter="url(#bl1)"/></g><path d="M0.9,57 L13.8,51.4 V54.3 H23.4 V59.8 H13.8 V62.7 Z" fill="#050505"/><path d="M150.4,57 L138.4,51.4 V54.3 H128.8 V59.8 H138.4 V62.7 Z" fill="#050505"/><text class="pl" x="3.5" y="13.5" fill="#ecebe6" font-size="12.3">(e) 17%</text><text class="pl" x="114.6" y="106.4" fill="#f2f2ee" font-size="12.6">50 µm</text><rect x="120.2" y="108.3" width="21.5" height="2" fill="#f4f4f0"/></svg><svg x="159" y="429" width="150" height="115" viewBox="0 0 150 115" overflow="hidden"><rect width="150" height="115" fill="#595c50"/><rect width="150" height="115" filter="url(#mot)"/><rect width="150" height="1.6" fill="#45483d" opacity="0.6"/><path d="M82,14 L92,12 L106,20 L105,31 L84,33 Z " fill="#6d7266" opacity="0.7" filter="url(#bl1)"/><clipPath id="kf"><path fill-rule="evenodd" d="M0,30.8 L11.3,27.1 L28.4,23.3 L47.3,22.3 L62.4,24.2 L75,28 L77.5,30.6 L74,59.5 L71.8,61.1 L62.4,57.3 L49.1,54.5 L34,54.5 L18.9,58.3 L7.6,64.9 L0,73.4 Z M84.5,31.8 L99.6,30.8 L116.6,32.7 L131.7,38.4 L143,46 L151,52 L151,99 L147.8,94.2 L143,86.6 L137.4,78.1 L127.9,70.5 L116.6,64.9 L103.4,62 L88.2,62 Z "/></clipPath><g clip-path="url(#kf)"><defs><radialGradient id="gf1" gradientUnits="userSpaceOnUse" cx="40" cy="120.7" r="98.4"><stop offset="0" stop-color="#d6bf62"/><stop offset="0.671" stop-color="#d0bb60"/><stop offset="0.697" stop-color="#bdb07e"/><stop offset="0.770" stop-color="#a88b6a"/><stop offset="0.835" stop-color="#a07a60"/><stop offset="0.908" stop-color="#aca886"/><stop offset="0.960" stop-color="#c5b670"/><stop offset="1.000" stop-color="#d8c260"/></radialGradient></defs><path d="M0,30.8 L11.3,27.1 L28.4,23.3 L47.3,22.3 L62.4,24.2 L75,28 L77.5,30.6 L74,59.5 L71.8,61.1 L62.4,57.3 L49.1,54.5 L34,54.5 L18.9,58.3 L7.6,64.9 L0,73.4 Z " fill="url(#gf1)"/><defs><radialGradient id="gf2" gradientUnits="userSpaceOnUse" cx="96" cy="112" r="80"><stop offset="0" stop-color="#d6bf62"/><stop offset="0.650" stop-color="#d0bb60"/><stop offset="0.678" stop-color="#bdb07e"/><stop offset="0.755" stop-color="#a88b6a"/><stop offset="0.825" stop-color="#a07a60"/><stop offset="0.902" stop-color="#aca886"/><stop offset="0.958" stop-color="#c5b670"/><stop offset="1.000" stop-color="#d8c260"/></radialGradient></defs><path d="M84.5,31.8 L99.6,30.8 L116.6,32.7 L131.7,38.4 L143,46 L151,52 L151,99 L147.8,94.2 L143,86.6 L137.4,78.1 L127.9,70.5 L116.6,64.9 L103.4,62 L88.2,62 Z " fill="url(#gf2)"/><rect width="150" height="115" filter="url(#tx2)" opacity="0.45"/><path fill-rule="evenodd" d="M0,30.8 L11.3,27.1 L28.4,23.3 L47.3,22.3 L62.4,24.2 L75,28 L77.5,30.6 L74,59.5 L71.8,61.1 L62.4,57.3 L49.1,54.5 L34,54.5 L18.9,58.3 L7.6,64.9 L0,73.4 Z M84.5,31.8 L99.6,30.8 L116.6,32.7 L131.7,38.4 L143,46 L151,52 L151,99 L147.8,94.2 L143,86.6 L137.4,78.1 L127.9,70.5 L116.6,64.9 L103.4,62 L88.2,62 Z " fill="none" stroke="#dcc45a" stroke-width="3.6" opacity="0.75" filter="url(#bl1)"/></g><path d="M77.5,22 L84.5,24 L86,45 L82,60 L76,50 Z " fill="#47483e" opacity="0.75"/><path d="M0.9,57 L13.8,51.4 V54.3 H23.4 V59.8 H13.8 V62.7 Z" fill="#050505"/><path d="M149.4,57 L137.4,51.4 V54.3 H127.8 V59.8 H137.4 V62.7 Z" fill="#050505"/><text class="pl" x="3.5" y="13.5" fill="#ecebe6" font-size="12.3">(f) 30%</text><text class="pl" x="114.6" y="106.4" fill="#f2f2ee" font-size="12.6">50 µm</text><rect x="120.2" y="108.3" width="21.5" height="2" fill="#f4f4f0"/></svg><svg x="311" y="429" width="151" height="115" viewBox="0 0 151 115" overflow="hidden"><rect width="151" height="115" fill="#595c50"/><rect width="151" height="115" filter="url(#mot)"/><rect width="151" height="1.6" fill="#45483d" opacity="0.6"/><path d="M47,29 L57,21 L72,18 L87,23 L99,33 L107,41 L99,51 L97,66 L84,68 L71,63 L64,56 L57,46 L49,39 Z " fill="#7a8073" opacity="0.85" filter="url(#bl2)"/><path d="M52,30 C62,24 75,22 88,27 M60,40 C70,35 85,38 95,45 M70,55 C78,50 88,52 96,58" stroke="#959a8c" stroke-width="0.7" fill="none" opacity="0.45"/><clipPath id="kg"><path fill-rule="evenodd" d="M0,33.3 L11.3,32.7 L24.6,33.7 L37.8,38.4 L49.1,44.1 L60.5,49.8 L69.9,55.4 L72.8,60.1 L56.7,83.8 L54.8,82.8 L47.3,76.2 L37.8,71.5 L24.6,67.7 L11.3,64.9 L0,62 Z M96.7,46 L107.1,41.2 L122.3,38.4 L137.4,36.5 L151,36.5 L151,63.9 L137.4,65.8 L122.3,68.7 L110,71.5 L100,60 Z "/></clipPath><g clip-path="url(#kg)"><defs><linearGradient id="gg1" gradientUnits="userSpaceOnUse" x1="36" y1="78" x2="28" y2="36"><stop offset="0.0" stop-color="#c9a548"/><stop offset="0.15" stop-color="#d5b955"/><stop offset="0.4" stop-color="#c8a850"/><stop offset="0.6" stop-color="#c5a550"/><stop offset="0.85" stop-color="#d6bc58"/><stop offset="1.0" stop-color="#b89040"/></linearGradient></defs><path d="M0,33.3 L11.3,32.7 L24.6,33.7 L37.8,38.4 L49.1,44.1 L60.5,49.8 L69.9,55.4 L72.8,60.1 L56.7,83.8 L54.8,82.8 L47.3,76.2 L37.8,71.5 L24.6,67.7 L11.3,64.9 L0,62 Z " fill="url(#gg1)"/><defs><linearGradient id="gg2" gradientUnits="userSpaceOnUse" x1="125" y1="70" x2="122" y2="36"><stop offset="0.0" stop-color="#c9a548"/><stop offset="0.15" stop-color="#d5b955"/><stop offset="0.4" stop-color="#c8a850"/><stop offset="0.6" stop-color="#c5a550"/><stop offset="0.85" stop-color="#d6bc58"/><stop offset="1.0" stop-color="#b89040"/></linearGradient></defs><path d="M96.7,46 L107.1,41.2 L122.3,38.4 L137.4,36.5 L151,36.5 L151,63.9 L137.4,65.8 L122.3,68.7 L110,71.5 L100,60 Z " fill="url(#gg2)"/><rect width="151" height="115" filter="url(#tx2)" opacity="0.45"/><g stroke="#94583c" stroke-width="1.3"><path d="M0,0 l-40,115" opacity="0.5"/><path d="M4,0 l-40,115" opacity="0.5"/><path d="M8,0 l-40,115" opacity="0.15"/><path d="M12,0 l-40,115" opacity="0.65"/><path d="M16,0 l-40,115" opacity="0.3"/><path d="M20,0 l-40,115" opacity="0.15"/><path d="M24,0 l-40,115" opacity="0.3"/><path d="M28,0 l-40,115" opacity="0.15"/><path d="M32,0 l-40,115" opacity="0.5"/><path d="M36,0 l-40,115" opacity="0.65"/><path d="M40,0 l-40,115" opacity="0.3"/><path d="M44,0 l-40,115" opacity="0.65"/><path d="M48,0 l-40,115" opacity="0.15"/><path d="M52,0 l-40,115" opacity="0.3"/><path d="M56,0 l-40,115" opacity="0.15"/><path d="M60,0 l-40,115" opacity="0.3"/><path d="M64,0 l-40,115" opacity="0.65"/><path d="M68,0 l-40,115" opacity="0.5"/><path d="M72,0 l-40,115" opacity="0.3"/><path d="M76,0 l-40,115" opacity="0.65"/><path d="M80,0 l-40,115" opacity="0.3"/><path d="M84,0 l-40,115" opacity="0.15"/><path d="M88,0 l-40,115" opacity="0.3"/><path d="M92,0 l-40,115" opacity="0.65"/><path d="M96,0 l-40,115" opacity="0.3"/><path d="M100,0 l-40,115" opacity="0.3"/><path d="M104,0 l-40,115" opacity="0.15"/><path d="M108,0 l-40,115" opacity="0.15"/><path d="M112,0 l-40,115" opacity="0.3"/><path d="M116,0 l-40,115" opacity="0.3"/><path d="M120,0 l-40,115" opacity="0.3"/><path d="M124,0 l-40,115" opacity="0.3"/><path d="M128,0 l-40,115" opacity="0.5"/><path d="M132,0 l-40,115" opacity="0.5"/><path d="M136,0 l-40,115" opacity="0.3"/><path d="M140,0 l-40,115" opacity="0.3"/><path d="M144,0 l-40,115" opacity="0.3"/><path d="M148,0 l-40,115" opacity="0.3"/><path d="M152,0 l-40,115" opacity="0.65"/><path d="M156,0 l-40,115" opacity="0.5"/><path d="M160,0 l-40,115" opacity="0.15"/><path d="M164,0 l-40,115" opacity="0.5"/><path d="M168,0 l-40,115" opacity="0.65"/><path d="M172,0 l-40,115" opacity="0.3"/><path d="M176,0 l-40,115" opacity="0.3"/><path d="M180,0 l-40,115" opacity="0.5"/><path d="M184,0 l-40,115" opacity="0.15"/><path d="M188,0 l-40,115" opacity="0.5"/><path d="M192,0 l-40,115" opacity="0.5"/><path d="M196,0 l-40,115" opacity="0.15"/></g><g filter="url(#bl1)" opacity="0.55" fill="#9a5a3c"><ellipse cx="6" cy="50" rx="7" ry="8"/><ellipse cx="27" cy="56" rx="8" ry="4"/><ellipse cx="40" cy="62" rx="5" ry="4"/><ellipse cx="108" cy="55" rx="8" ry="11"/><ellipse cx="122" cy="58" rx="5" ry="7"/></g><ellipse cx="30" cy="46" rx="2.5" ry="2" fill="#d08a40" opacity="0.7"/><path fill-rule="evenodd" d="M0,33.3 L11.3,32.7 L24.6,33.7 L37.8,38.4 L49.1,44.1 L60.5,49.8 L69.9,55.4 L72.8,60.1 L56.7,83.8 L54.8,82.8 L47.3,76.2 L37.8,71.5 L24.6,67.7 L11.3,64.9 L0,62 Z M96.7,46 L107.1,41.2 L122.3,38.4 L137.4,36.5 L151,36.5 L151,63.9 L137.4,65.8 L122.3,68.7 L110,71.5 L100,60 Z " fill="none" stroke="#dcc45a" stroke-width="3" opacity="0.75" filter="url(#bl1)"/></g><path d="M0,33.3 L11.3,32.7 L24.6,33.7 L37.8,38.4 L49.1,44.1 L60.5,49.8 L69.9,55.4 L72.8,60.1 L56.7,83.8 L54.8,82.8 L47.3,76.2 L37.8,71.5 L24.6,67.7 L11.3,64.9 L0,62 Z M96.7,46 L107.1,41.2 L122.3,38.4 L137.4,36.5 L151,36.5 L151,63.9 L137.4,65.8 L122.3,68.7 L110,71.5 L100,60 Z " fill="none" stroke="#5a4a30" stroke-width="0.8" opacity="0.6"/><path d="M0.9,57 L13.8,51.4 V54.3 H23.4 V59.8 H13.8 V62.7 Z" fill="#050505"/><path d="M150.4,57 L138.4,51.4 V54.3 H128.8 V59.8 H138.4 V62.7 Z" fill="#050505"/><text class="pl" x="3.5" y="13.5" fill="#ecebe6" font-size="12.3">(g) 42%</text><text class="pl" x="114.6" y="106.4" fill="#f2f2ee" font-size="12.6">50 µm</text><rect x="120.2" y="108.3" width="21.5" height="2" fill="#f4f4f0"/></svg>
</svg>
</body></html>
